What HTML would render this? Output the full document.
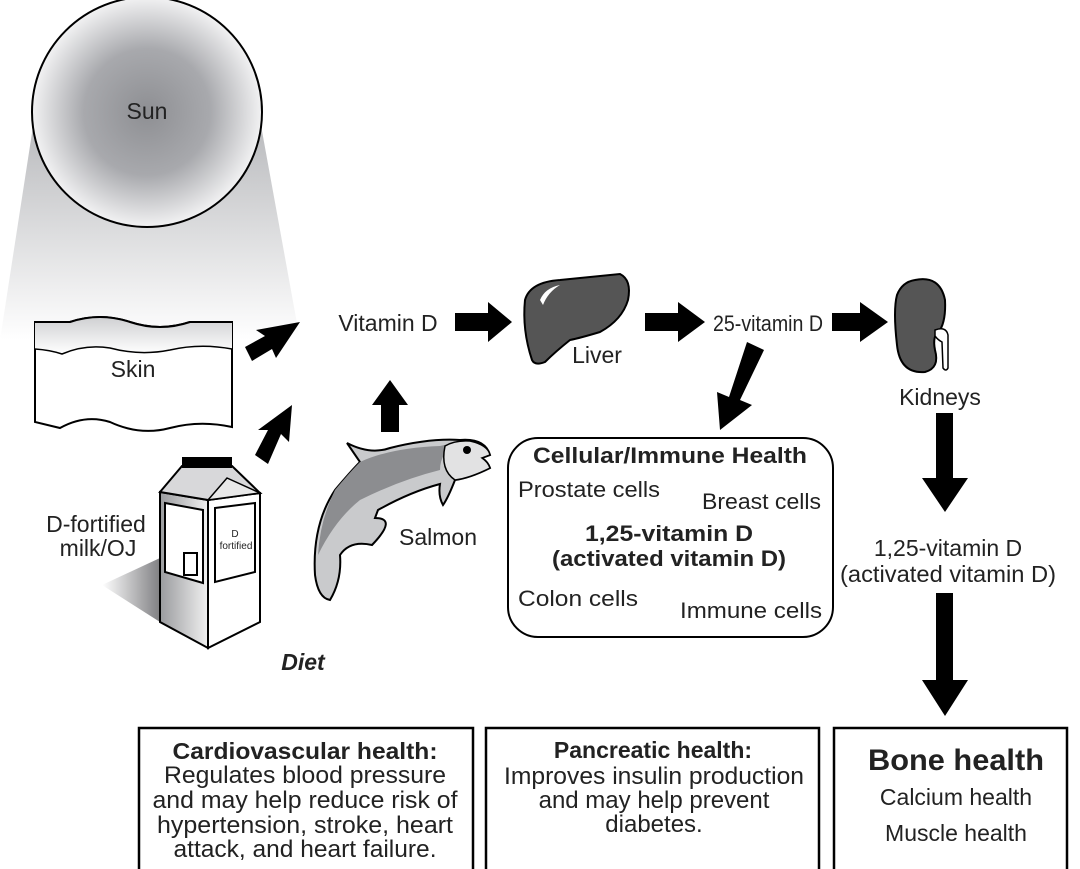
<!DOCTYPE html>
<html><head><meta charset="utf-8"><style>
html,body{margin:0;padding:0;background:#fff;}
svg{display:block;font-family:"Liberation Sans",Arial,sans-serif;}
</style></head><body>
<svg width="1080" height="869" viewBox="0 0 1080 869" xmlns="http://www.w3.org/2000/svg">
<defs>
<radialGradient id="sun" cx="0.5" cy="0.5" r="0.5">
<stop offset="0" stop-color="#8e8f93"/><stop offset="0.55" stop-color="#a8a9ad"/><stop offset="1" stop-color="#f2f2f3"/>
</radialGradient>
<linearGradient id="cone" x1="0" y1="0" x2="0" y2="1">
<stop offset="0" stop-color="#b8b9bc"/><stop offset="1" stop-color="#ffffff"/>
</linearGradient>
<linearGradient id="skinTop" x1="0" y1="0" x2="0" y2="1">
<stop offset="0" stop-color="#cfd0d2"/><stop offset="1" stop-color="#ffffff"/>
</linearGradient>
<linearGradient id="carton" x1="0" y1="0" x2="1" y2="0">
<stop offset="0" stop-color="#9a9b9e"/><stop offset="1" stop-color="#f0f0f0"/>
</linearGradient>
<linearGradient id="shadow" x1="0" y1="0" x2="1" y2="0">
<stop offset="0" stop-color="#ffffff"/><stop offset="1" stop-color="#808083"/>
</linearGradient>
</defs>

<polygon points="34,120 260,120 300,340 0,340" fill="url(#cone)"/>
<circle cx="147" cy="112" r="115" fill="url(#sun)" stroke="#000" stroke-width="2"/>
<text x="147" y="119" font-size="23" text-anchor="middle" fill="#222">Sun</text>

<path d="M35,322 L70,322 Q100,312 130,322 Q160,332 190,322 L232,322 L232,427 Q200,420 170,428 Q140,436 110,422 Q85,414 60,428 L35,422 Z" fill="#fff" stroke="#000" stroke-width="2"/>
<path d="M35,322 L70,322 Q100,312 130,322 Q160,332 190,322 L232,322 L232,349 Q200,343 170,350 Q140,356 110,348 Q85,344 62,354 L35,349 Z" fill="url(#skinTop)"/>
<path d="M35,349 Q50,350 62,354 Q85,344 110,348 Q140,356 170,350 Q200,343 232,349" fill="none" stroke="#000" stroke-width="1.5"/>
<path d="M35,322 L70,322 Q100,312 130,322 Q160,332 190,322 L232,322" fill="none" stroke="#000" stroke-width="2"/>
<text x="133" y="377" font-size="23" text-anchor="middle" fill="#222">Skin</text>

<g fill="#000">
<polygon points="245,347 265,336 256,330 300,322 276,358 272,349 252,361"/>
<polygon points="255,455 268,430 258,430 292,405 289,442 281,434 268,464"/>
<polygon points="381,432 381,405 372,405 390,380 408,405 399,405 399,432"/>
<polygon points="455,313 488,313 488,302 512,322 488,342 488,331 455,331"/>
<polygon points="645,313 678,313 678,302 705,322 678,342 678,331 645,331"/>
<polygon points="832,313 860,313 860,302 888,322 860,342 860,331 832,331"/>
<polygon points="747,342 764,350 740,400 752,405 720,430 717,392 729,397"/>
<polygon points="936,413 953,413 953,478 968,478 945,512 922,478 936,478"/>
<polygon points="936,593 953,593 953,680 968,680 945,716 922,680 936,680"/>
</g>

<text x="388" y="331" font-size="23" text-anchor="middle" fill="#222">Vitamin D</text>

<path d="M525,300 Q530,282 560,280 L620,274 Q632,280 628,300 Q622,320 600,332 Q580,338 570,340 Q555,352 545,362 Q535,366 532,360 Q522,330 525,300 Z" fill="#555" stroke="#000" stroke-width="2"/>
<path d="M540,300 Q545,288 560,285 Q548,292 543,305 Z" fill="#fff"/>
<text x="597" y="363" font-size="23" text-anchor="middle" fill="#222">Liver</text>

<text x="713" y="331" font-size="22" fill="#222" textLength="110" lengthAdjust="spacingAndGlyphs">25-vitamin D</text>

<path d="M915,280 Q940,275 945,300 Q946,320 940,330 Q932,335 935,350 Q940,368 925,372 Q900,374 897,345 Q893,310 897,295 Q902,282 915,280 Z" fill="#555" stroke="#000" stroke-width="2"/>
<path d="M935,330 Q946,326 948,335 L948,368 Q946,372 943,368 L942,342 Q938,340 935,336 Z" fill="#fff" stroke="#000" stroke-width="1.5"/>
<text x="940" y="405" font-size="23" text-anchor="middle" fill="#222">Kidneys</text>

<text x="948" y="556" font-size="23" text-anchor="middle" fill="#222">1,25-vitamin D</text>
<text x="948" y="582" font-size="23" text-anchor="middle" fill="#222" textLength="216" lengthAdjust="spacingAndGlyphs">(activated vitamin D)</text>

<rect x="508" y="438" width="325" height="199" rx="30" ry="30" fill="#fff" stroke="#000" stroke-width="2"/>
<text x="670" y="463" font-size="22" font-weight="bold" text-anchor="middle" fill="#222" textLength="274" lengthAdjust="spacingAndGlyphs">Cellular/Immune Health</text>
<text x="518" y="497" font-size="22" fill="#222" textLength="142" lengthAdjust="spacingAndGlyphs">Prostate cells</text>
<text x="702" y="509" font-size="22" fill="#222" textLength="119" lengthAdjust="spacingAndGlyphs">Breast cells</text>
<text x="669" y="541" font-size="22" font-weight="bold" text-anchor="middle" fill="#222" textLength="168" lengthAdjust="spacingAndGlyphs">1,25-vitamin D</text>
<text x="669" y="566" font-size="22" font-weight="bold" text-anchor="middle" fill="#222" textLength="234" lengthAdjust="spacingAndGlyphs">(activated vitamin D)</text>
<text x="518" y="606" font-size="22" fill="#222" textLength="120" lengthAdjust="spacingAndGlyphs">Colon cells</text>
<text x="680" y="618" font-size="22" fill="#222" textLength="142" lengthAdjust="spacingAndGlyphs">Immune cells</text>

<polygon points="102,585 160,558 160,622" fill="url(#shadow)"/>
<polygon points="160,492 208,500 208,648 160,622" fill="url(#carton)" stroke="#000" stroke-width="2"/>
<polygon points="208,500 260,493 260,622 208,648" fill="#fff" stroke="#000" stroke-width="2"/>
<polygon points="160,492 182,466 232,466 260,493 208,500" fill="#d8d8da" stroke="#000" stroke-width="2"/>
<polygon points="208,500 227,478 260,493" fill="#e8e8e8" stroke="#000" stroke-width="1.5"/>
<rect x="182" y="457" width="50" height="11" fill="#000"/>
<polygon points="165,503 203,510 203,583 165,572" fill="#fff" stroke="#000" stroke-width="2"/>
<polygon points="215,508 255,503 255,572 215,582" fill="#fff" stroke="#000" stroke-width="2"/>
<rect x="184" y="553" width="13" height="22" fill="#fff" stroke="#000" stroke-width="2"/>
<text x="235" y="537" font-size="10" text-anchor="middle" fill="#222">D</text>
<text x="236" y="549" font-size="10" text-anchor="middle" fill="#222">fortified</text>
<text x="96" y="532" font-size="23" text-anchor="middle" fill="#222">D-fortified</text>
<text x="98" y="556" font-size="23" text-anchor="middle" fill="#222">milk/OJ</text>
<text x="303" y="670" font-size="23" font-weight="bold" font-style="italic" text-anchor="middle" fill="#222">Diet</text>

<path d="M347,443 Q370,455 390,448 Q430,438 460,440 Q485,438 490,455 L482,458 Q488,462 490,468 Q470,478 455,480 Q448,498 443,505 Q438,496 440,484 Q410,492 378,510 L375,518 Q398,518 372,545 Q350,540 340,555 Q342,580 330,600 Q318,598 315,575 Q312,525 335,490 Q352,470 360,462 Z" fill="#c9cacc" stroke="#000" stroke-width="2"/>
<path d="M360,462 Q390,448 440,446 L458,442 Q440,452 440,470 Q400,480 360,500 Q335,520 318,555 Q320,520 335,490 Q350,472 360,462 Z" fill="#8c8d90"/>
<path d="M445,446 Q455,440 470,441 Q488,445 490,455 L482,458 Q488,462 490,468 Q470,478 455,480 Q440,470 445,446 Z" fill="#e2e2e3" stroke="#000" stroke-width="1.5"/>
<circle cx="467" cy="450" r="4" fill="#000"/>
<text x="438" y="545" font-size="23" text-anchor="middle" fill="#222">Salmon</text>

<rect x="139" y="728" width="334" height="160" fill="#fff" stroke="#000" stroke-width="2.5"/>
<text x="305" y="759" font-size="23" font-weight="bold" text-anchor="middle" fill="#222" textLength="265" lengthAdjust="spacingAndGlyphs">Cardiovascular health:</text>
<text x="305" y="783" font-size="24" text-anchor="middle" fill="#222" textLength="282" lengthAdjust="spacingAndGlyphs">Regulates blood pressure</text>
<text x="305" y="808" font-size="24" text-anchor="middle" fill="#222" textLength="305" lengthAdjust="spacingAndGlyphs">and may help reduce risk of</text>
<text x="305" y="833" font-size="24" text-anchor="middle" fill="#222" textLength="296" lengthAdjust="spacingAndGlyphs">hypertension, stroke, heart</text>
<text x="305" y="857" font-size="24" text-anchor="middle" fill="#222" textLength="263" lengthAdjust="spacingAndGlyphs">attack, and heart failure.</text>

<rect x="486" y="728" width="333" height="160" fill="#fff" stroke="#000" stroke-width="2.5"/>
<text x="653" y="758" font-size="23" font-weight="bold" text-anchor="middle" fill="#222">Pancreatic health:</text>
<text x="654" y="784" font-size="24" text-anchor="middle" fill="#222" textLength="300" lengthAdjust="spacingAndGlyphs">Improves insulin production</text>
<text x="654" y="808" font-size="24" text-anchor="middle" fill="#222">and may help prevent</text>
<text x="654" y="832" font-size="24" text-anchor="middle" fill="#222">diabetes.</text>

<rect x="834" y="728" width="233" height="160" fill="#fff" stroke="#000" stroke-width="2.5"/>
<text x="956" y="770" font-size="30" font-weight="bold" text-anchor="middle" fill="#222" textLength="176" lengthAdjust="spacingAndGlyphs">Bone health</text>
<text x="956" y="805" font-size="23" text-anchor="middle" fill="#222">Calcium health</text>
<text x="956" y="841" font-size="23" text-anchor="middle" fill="#222">Muscle health</text>
</svg>
</body></html>
